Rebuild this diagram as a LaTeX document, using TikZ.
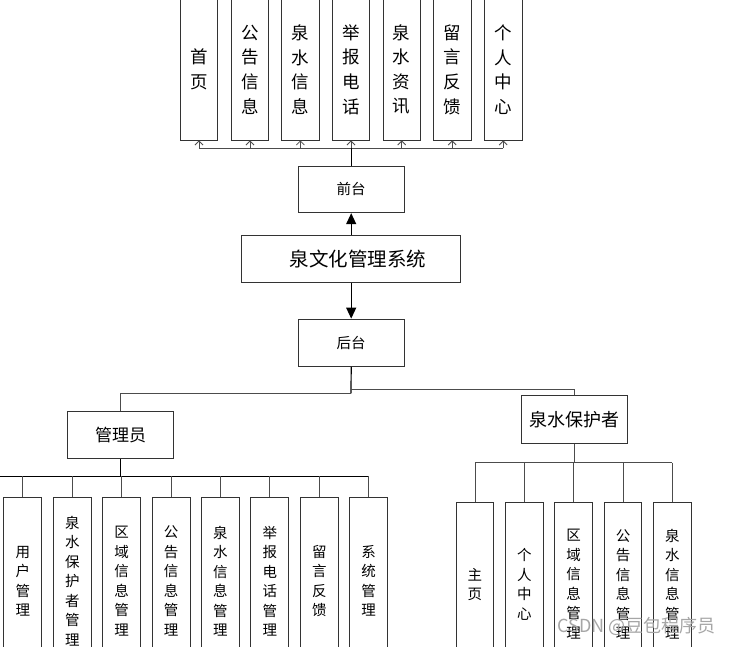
\documentclass[tikz,border=0pt]{standalone}
\usepackage{fontspec}
\newfontfamily\cjk{Noto Sans CJK SC}
\usetikzlibrary{arrows.meta}
\tikzset{
  box/.style={draw=black!80, line width=0.9pt, fill=white, inner sep=0pt, font=\cjk\fontsize{14.5}{17}\selectfont},
  topbox/.style={box, minimum width=37.5pt, minimum height=141pt, align=center, font=\cjk\fontsize{17.5}{24.6}\selectfont},
  lowbox/.style={box, minimum width=37.8pt, align=center, font=\cjk\fontsize{14.5}{19.5}\selectfont},
  wire/.style={draw=black!70, line width=0.8pt},
  mainwire/.style={draw=black, line width=1.2pt},
  uparrow/.style={wire, -{Straight Barb[length=4pt,width=8pt]}},
  bigarrow/.style={mainwire, -{Triangle[length=11pt,width=10pt]}},
}
\begin{document}
\begin{tikzpicture}[x=1pt,y=-1pt]
\useasboundingbox (0,0) rectangle (738,646);
\clip (0,0) rectangle (738,646);
\fill[white] (0,0) rectangle (738,646);

% top row
\node[topbox] (t1) at (199,69.5) {首\\页};
\node[topbox] (t2) at (250,69.5) {公\\告\\信\\息};
\node[topbox] (t3) at (300.4,69.5) {泉\\水\\信\\息};
\node[topbox] (t4) at (351,69.5) {举\\报\\电\\话};
\node[topbox] (t5) at (401.7,69.5) {泉\\水\\资\\讯};
\node[topbox] (t6) at (452.2,69.5) {留\\言\\反\\馈};
\node[topbox] (t7) at (503.2,69.5) {个\\人\\中\\心};

% middle
\node[box, minimum width=105.7pt, minimum height=46.7pt] (qt) at (351.2,189.4) {前台};
\node[box, minimum width=219pt, minimum height=47pt, font=\cjk\fontsize{19.5}{22}\selectfont] (sys) at (351.2,258.8) {\hspace*{14pt}泉文化管理系统};
\node[box, minimum width=105.7pt, minimum height=47.3pt] (ht) at (351.2,342.7) {后台};
\node[box, minimum width=105.6pt, minimum height=47pt, font=\cjk\fontsize{17}{20}\selectfont] (mgr) at (120.5,435.2) {管理员};
\node[box, minimum width=106pt, minimum height=47.3pt, font=\cjk\fontsize{18}{20}\selectfont] (prot) at (574.7,419.4) {泉水保护者};

% lower left
\node[lowbox, minimum height=166.6pt] (a1) at (22.8,581) {用\\户\\管\\理};
\node[lowbox, minimum height=166.6pt] (a2) at (72.3,581) {泉\\水\\保\\护\\者\\管\\理};
\node[lowbox, minimum height=166.6pt] (a3) at (121.6,581) {区\\域\\信\\息\\管\\理};
\node[lowbox, minimum height=166.6pt] (a4) at (171.1,581) {公\\告\\信\\息\\管\\理};
\node[lowbox, minimum height=166.6pt] (a5) at (220.4,581) {泉\\水\\信\\息\\管\\理};
\node[lowbox, minimum height=166.6pt] (a6) at (269.8,581) {举\\报\\电\\话\\管\\理};
\node[lowbox, minimum height=166.6pt] (a7) at (319.3,581) {留\\言\\反\\馈};
\node[lowbox, minimum height=166.6pt] (a8) at (368.5,581) {系\\统\\管\\理};

% lower right
\node[lowbox, minimum height=164pt] (b1) at (474.9,584.3) {主\\页};
\node[lowbox, minimum height=164pt] (b2) at (524.3,584.3) {个\\人\\中\\心};
\node[lowbox, minimum height=164pt] (b3) at (573.5,584.3) {区\\域\\信\\息\\管\\理};
\node[lowbox, minimum height=164pt] (b4) at (623,584.3) {公\\告\\信\\息\\管\\理};
\node[lowbox, minimum height=164pt] (b5) at (672.3,584.3) {泉\\水\\信\\息\\管\\理};

% top bus
\coordinate (tbus) at (351,148.3);
\draw[wire] (t1.south |- tbus) -- (t7.south |- tbus);
\draw[mainwire] (qt.north) -- (qt.north |- tbus);
\foreach \n in {t1,t2,t3,t4,t5,t6,t7}
  \draw[uparrow] (\n.south |- tbus) -- (\n.south);

% main arrows
\draw[bigarrow] (sys.north) -- (qt.south);
\draw[bigarrow] (sys.south) -- (ht.north);

% backend split
\coordinate (lj) at (351,393.3);
\coordinate (rj) at (351,389.3);
\draw[mainwire] (ht.south) -- (lj);
\draw[wire] (lj) -| (mgr.north);
\draw[wire] (rj) -| (prot.north);

% manager children
\coordinate (lbus) at (0,476.3);
\draw[mainwire, line width=1pt] (lbus) -- (lbus -| a8.north);
\draw[mainwire, line width=1pt] (mgr.south) -- (mgr.south |- lbus);
\foreach \n in {a1,a2,a3,a4,a5,a6,a7,a8}
  \draw[wire] (\n.north |- lbus) -- (\n.north);

% protector children
\coordinate (rbus) at (0,462.5);
\draw[wire] (rbus -| b1.north) -- (rbus -| b5.north);
\draw[wire] (prot.south) -- (prot.south |- rbus);
\foreach \n in {b1,b2,b3,b4,b5}
  \draw[wire] (\n.north |- rbus) -- (\n.north);

% watermark
\node[text=black!35, font=\cjk\fontsize{18}{20}\selectfont, inner sep=0pt] (wm) at (636.7,626.7) {CSDN @豆包程序员};
\end{tikzpicture}
\end{document}
